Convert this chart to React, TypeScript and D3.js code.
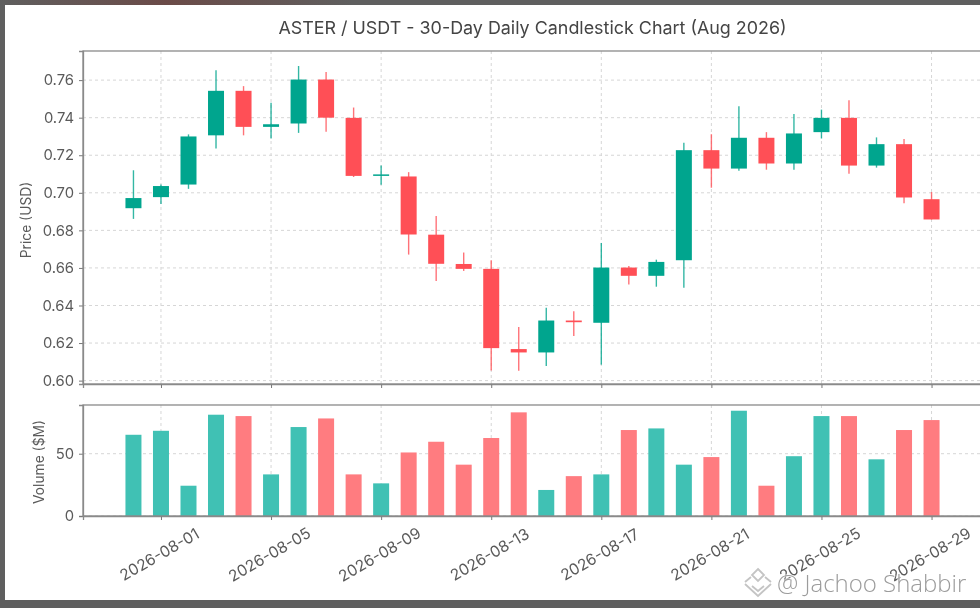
import React, { useEffect, useRef } from 'react';
import * as d3 from 'd3';

const days = [
  '2026-07-31', '2026-08-01', '2026-08-02', '2026-08-03', '2026-08-04', '2026-08-05',
  '2026-08-06', '2026-08-07', '2026-08-08', '2026-08-09', '2026-08-10', '2026-08-11',
  '2026-08-12', '2026-08-13', '2026-08-14', '2026-08-15', '2026-08-16', '2026-08-17',
  '2026-08-18', '2026-08-19', '2026-08-20', '2026-08-21', '2026-08-22', '2026-08-23',
  '2026-08-24', '2026-08-25', '2026-08-26', '2026-08-27', '2026-08-28', '2026-08-29',
];
const opens = [
  0.6918, 0.6977, 0.7044, 0.7306, 0.7543, 0.7351, 0.7369, 0.7603, 0.7399, 0.7091,
  0.7087, 0.6777, 0.6621, 0.6595, 0.6168, 0.6150, 0.6320, 0.6308, 0.6602, 0.6558,
  0.6641, 0.7227, 0.7129, 0.7293, 0.7156, 0.7323, 0.7399, 0.7145, 0.7259, 0.6966,
];
const closes = [
  0.6972, 0.7036, 0.7300, 0.7543, 0.7351, 0.7365, 0.7603, 0.7400, 0.7090, 0.7098,
  0.6778, 0.6622, 0.6595, 0.6173, 0.6150, 0.6320, 0.6311, 0.6602, 0.6558, 0.6632,
  0.7227, 0.7129, 0.7293, 0.7156, 0.7316, 0.7399, 0.7145, 0.7259, 0.6975, 0.6858,
];
const highs = [
  0.7120, 0.7044, 0.7311, 0.7653, 0.7568, 0.7479, 0.7675, 0.7643, 0.7454, 0.7145,
  0.7110, 0.6877, 0.6682, 0.6641, 0.6286, 0.6388, 0.6370, 0.6733, 0.6610, 0.6644,
  0.7266, 0.7312, 0.7461, 0.7323, 0.7419, 0.7443, 0.7493, 0.7295, 0.7287, 0.7004,
];
const lows = [
  0.6861, 0.6941, 0.7021, 0.7236, 0.7306, 0.7289, 0.7319, 0.7325, 0.7084, 0.7043,
  0.6671, 0.6530, 0.6584, 0.6054, 0.6052, 0.6078, 0.6237, 0.6085, 0.6512, 0.6500,
  0.6494, 0.7027, 0.7117, 0.7123, 0.7123, 0.7289, 0.7102, 0.7134, 0.6945, 0.6858,
];
const volumes = [
  65.2, 68.4, 24.3, 81.3, 80.2, 33.4, 71.4, 78.3, 33.4, 26.2,
  51, 59.6, 41.2, 62.6, 83.2, 20.9, 32, 33.4, 69, 70.3,
  41.2, 47.3, 84.5, 24.3, 48, 80.2, 80.2, 45.5, 69, 77,
];
const dateTicks = [
  '2026-08-01', '2026-08-05', '2026-08-09', '2026-08-13',
  '2026-08-17', '2026-08-21', '2026-08-25', '2026-08-29',
];
const priceTicks = [0.6, 0.62, 0.64, 0.66, 0.68, 0.7, 0.72, 0.74, 0.76];
const volumeTicks = [0, 50];

const UP = '#00a58e';
const DOWN = '#ff5056';
const VOL_UP = '#3fc1b4';
const VOL_DOWN = '#ff7b80';
const FONT = 'Inter, "Noto Sans", sans-serif';
const TEXT = '#5a5a5a';

export default function App() {
  const svgRef = useRef<SVGSVGElement>(null);

  useEffect(() => {
    if (!svgRef.current) return;
    document.body.style.margin = '0';

    const svg = d3.select(svgRef.current);
    svg.selectAll('*').remove();

    const width = 980;
    const height = 608;
    const left = 83;
    const right = 982;
    const priceTop = 51;
    const priceBottom = 384;
    const volTop = 405;
    const volBottom = 516;

    const parse = d3.utcParse('%Y-%m-%d');
    const toDate = (s: string) => parse(s) as Date;
    const x = d3
      .scaleUtc()
      .domain([d3.utcHour.offset(toDate(days[0]), -44), d3.utcHour.offset(toDate(days[29]), 44)])
      .range([left, right]);
    const yPrice = d3.scaleLinear().domain([0.5982, 0.7755]).range([priceBottom, priceTop]);
    const yVol = d3.scaleLinear().domain([0, 89.1]).range([volBottom, volTop]);

    // slight softening, the source picture is a rescaled screenshot
    const defs = svg.append('defs');
    defs
      .append('filter')
      .attr('id', 'soft')
      .attr('x', '0')
      .attr('y', '0')
      .attr('width', '100%')
      .attr('height', '100%')
      .append('feGaussianBlur')
      .attr('stdDeviation', 0.65);
    const band = defs.append('linearGradient').attr('id', 'band');
    band.append('stop').attr('offset', '0').attr('stop-color', '#5f5f5f');
    band.append('stop').attr('offset', '0.17').attr('stop-color', '#6b4b48');
    band.append('stop').attr('offset', '0.36').attr('stop-color', '#5f5f5f');

    // screenshot frame
    svg.append('rect').attr('width', width).attr('height', height).attr('fill', '#5f5f5f');
    svg.append('rect').attr('width', width).attr('height', 5).attr('fill', 'url(#band)');
    svg.append('rect').attr('x', 5).attr('y', 5).attr('width', width - 5).attr('height', 595).attr('fill', '#fff');

    const root = svg.append('g').attr('filter', 'url(#soft)');

    root
      .append('text')
      .attr('x', 532.5)
      .attr('y', 34)
      .attr('text-anchor', 'middle')
      .attr('font-family', FONT)
      .attr('font-size', 17.9)
      .attr('fill', '#444')
      .text('ASTER / USDT - 30-Day Daily Candlestick Chart (Aug 2026)');

    const tickDates = dateTicks.map(toDate);

    const drawGrid = (top: number, bottom: number, yTicks: number[], yScale: d3.ScaleLinear<number, number>) => {
      const grid = root.append('g').attr('stroke', '#d6d6d6').attr('stroke-width', 1).attr('stroke-dasharray', '3,3');
      grid
        .selectAll('line.v')
        .data(tickDates)
        .enter()
        .append('line')
        .attr('x1', (d) => x(d))
        .attr('x2', (d) => x(d))
        .attr('y1', top)
        .attr('y2', bottom);
      grid
        .selectAll('line.h')
        .data(yTicks)
        .enter()
        .append('line')
        .attr('x1', left)
        .attr('x2', right)
        .attr('y1', (d) => yScale(d))
        .attr('y2', (d) => yScale(d));
    };
    drawGrid(priceTop, priceBottom, priceTicks, yPrice);
    drawGrid(volTop, volBottom, volumeTicks, yVol);

    // Candles
    const idx = d3.range(days.length);
    const isUp = (i: number) => closes[i] >= opens[i];
    const color = (i: number) => (isUp(i) ? UP : DOWN);
    const bodyW = 16;

    const candles = root.append('g');
    candles
      .selectAll('line')
      .data(idx)
      .enter()
      .append('line')
      .attr('x1', (i) => x(toDate(days[i])))
      .attr('x2', (i) => x(toDate(days[i])))
      .attr('y1', (i) => yPrice(highs[i]))
      .attr('y2', (i) => yPrice(lows[i]))
      .attr('stroke', color)
      .attr('stroke-width', 1.4)
      .attr('opacity', 0.8);
    candles
      .selectAll('rect')
      .data(idx)
      .enter()
      .append('rect')
      .attr('x', (i) => x(toDate(days[i])) - bodyW / 2)
      .attr('width', bodyW)
      .attr('y', (i) => yPrice(Math.max(opens[i], closes[i])))
      .attr('height', (i) => Math.max(1.5, Math.abs(yPrice(opens[i]) - yPrice(closes[i]))))
      .attr('fill', color);

    // Volume bars
    root
      .append('g')
      .selectAll('rect')
      .data(idx)
      .enter()
      .append('rect')
      .attr('x', (i) => x(toDate(days[i])) - bodyW / 2)
      .attr('width', bodyW)
      .attr('y', (i) => yVol(volumes[i]))
      .attr('height', (i) => volBottom - yVol(volumes[i]))
      .attr('fill', (i) => (isUp(i) ? VOL_UP : VOL_DOWN));

    // Axes
    const styleAxis = (g: d3.Selection<SVGGElement, unknown, null, undefined>) => {
      g.selectAll('path').attr('stroke', '#8a8a8a').attr('stroke-width', 1.3);
      g.selectAll('line').attr('stroke', '#777');
      g.selectAll('text').attr('fill', TEXT).attr('font-family', FONT).attr('font-size', 14.8);
    };

    root
      .append('g')
      .attr('transform', `translate(${left},0)`)
      .call(d3.axisLeft(yPrice).tickValues(priceTicks).tickFormat(d3.format('.2f')).tickSize(4).tickPadding(5))
      .call(styleAxis);
    root
      .append('g')
      .attr('transform', `translate(${left},0)`)
      .call(d3.axisLeft(yVol).tickValues(volumeTicks).tickFormat(d3.format('d')).tickSize(4).tickPadding(5))
      .call(styleAxis);
    root
      .append('g')
      .attr('transform', `translate(0,${priceBottom})`)
      .call(d3.axisBottom(x).tickValues(tickDates).tickFormat(() => '').tickSize(4))
      .call(styleAxis);

    const volAxis = root
      .append('g')
      .attr('transform', `translate(0,${volBottom})`)
      .call(d3.axisBottom(x).tickValues(tickDates).tickFormat(d3.utcFormat('%Y-%m-%d') as any).tickSize(4))
      .call(styleAxis);
    volAxis
      .selectAll('text')
      .attr('text-anchor', 'middle')
      .attr('font-size', 15.6)
      .attr('y', 0)
      .attr('dy', '0.35em')
      .attr('transform', 'translate(-2,38.5) rotate(-30)');

    // Panel frames
    [[priceTop, priceBottom], [volTop, volBottom]].forEach(([t, b]) => {
      root
        .append('rect')
        .attr('x', left)
        .attr('y', t)
        .attr('width', right - left)
        .attr('height', b - t)
        .attr('fill', 'none')
        .attr('stroke', '#8a8a8a')
        .attr('stroke-width', 1.3);
    });

    const yLabel = (text: string, lx: number, ly: number) => {
      root
        .append('text')
        .attr('transform', `translate(${lx},${ly}) rotate(-90)`)
        .attr('text-anchor', 'middle')
        .attr('font-family', FONT)
        .attr('font-size', 13.8)
        .attr('fill', TEXT)
        .text(text);
    };
    yLabel('Price (USD)', 31, 220);
    yLabel('Volume ($M)', 44, 462);

    // Watermark
    const mark = root.append('g').attr('fill', 'none').attr('stroke', '#c4c4c4').attr('stroke-width', 1.8);
    mark.append('path').attr('d', 'M758 569 L764 575 L758 581 L752 575 Z');
    mark.append('path').attr('d', 'M745 582 L751 577 M771 582 L765 577 M745 584 L758 596 L771 584');
    mark.append('path').attr('d', 'M752 586 L758 591 L764 586');
    root
      .append('text')
      .attr('x', 777)
      .attr('y', 592)
      .attr('font-family', '"Open Sans", sans-serif')
      .attr('font-size', 24)
      .attr('font-weight', 300)
      .attr('fill', '#9c9c9c')
      .attr('stroke', '#fff')
      .attr('stroke-width', 2)
      .attr('paint-order', 'stroke')
      .attr('stroke-opacity', 0.6)
      .text('@ Jachoo Shabbir');
  }, []);

  return <svg ref={svgRef} width={980} height={608} style={{ display: 'block' }} />;
}
